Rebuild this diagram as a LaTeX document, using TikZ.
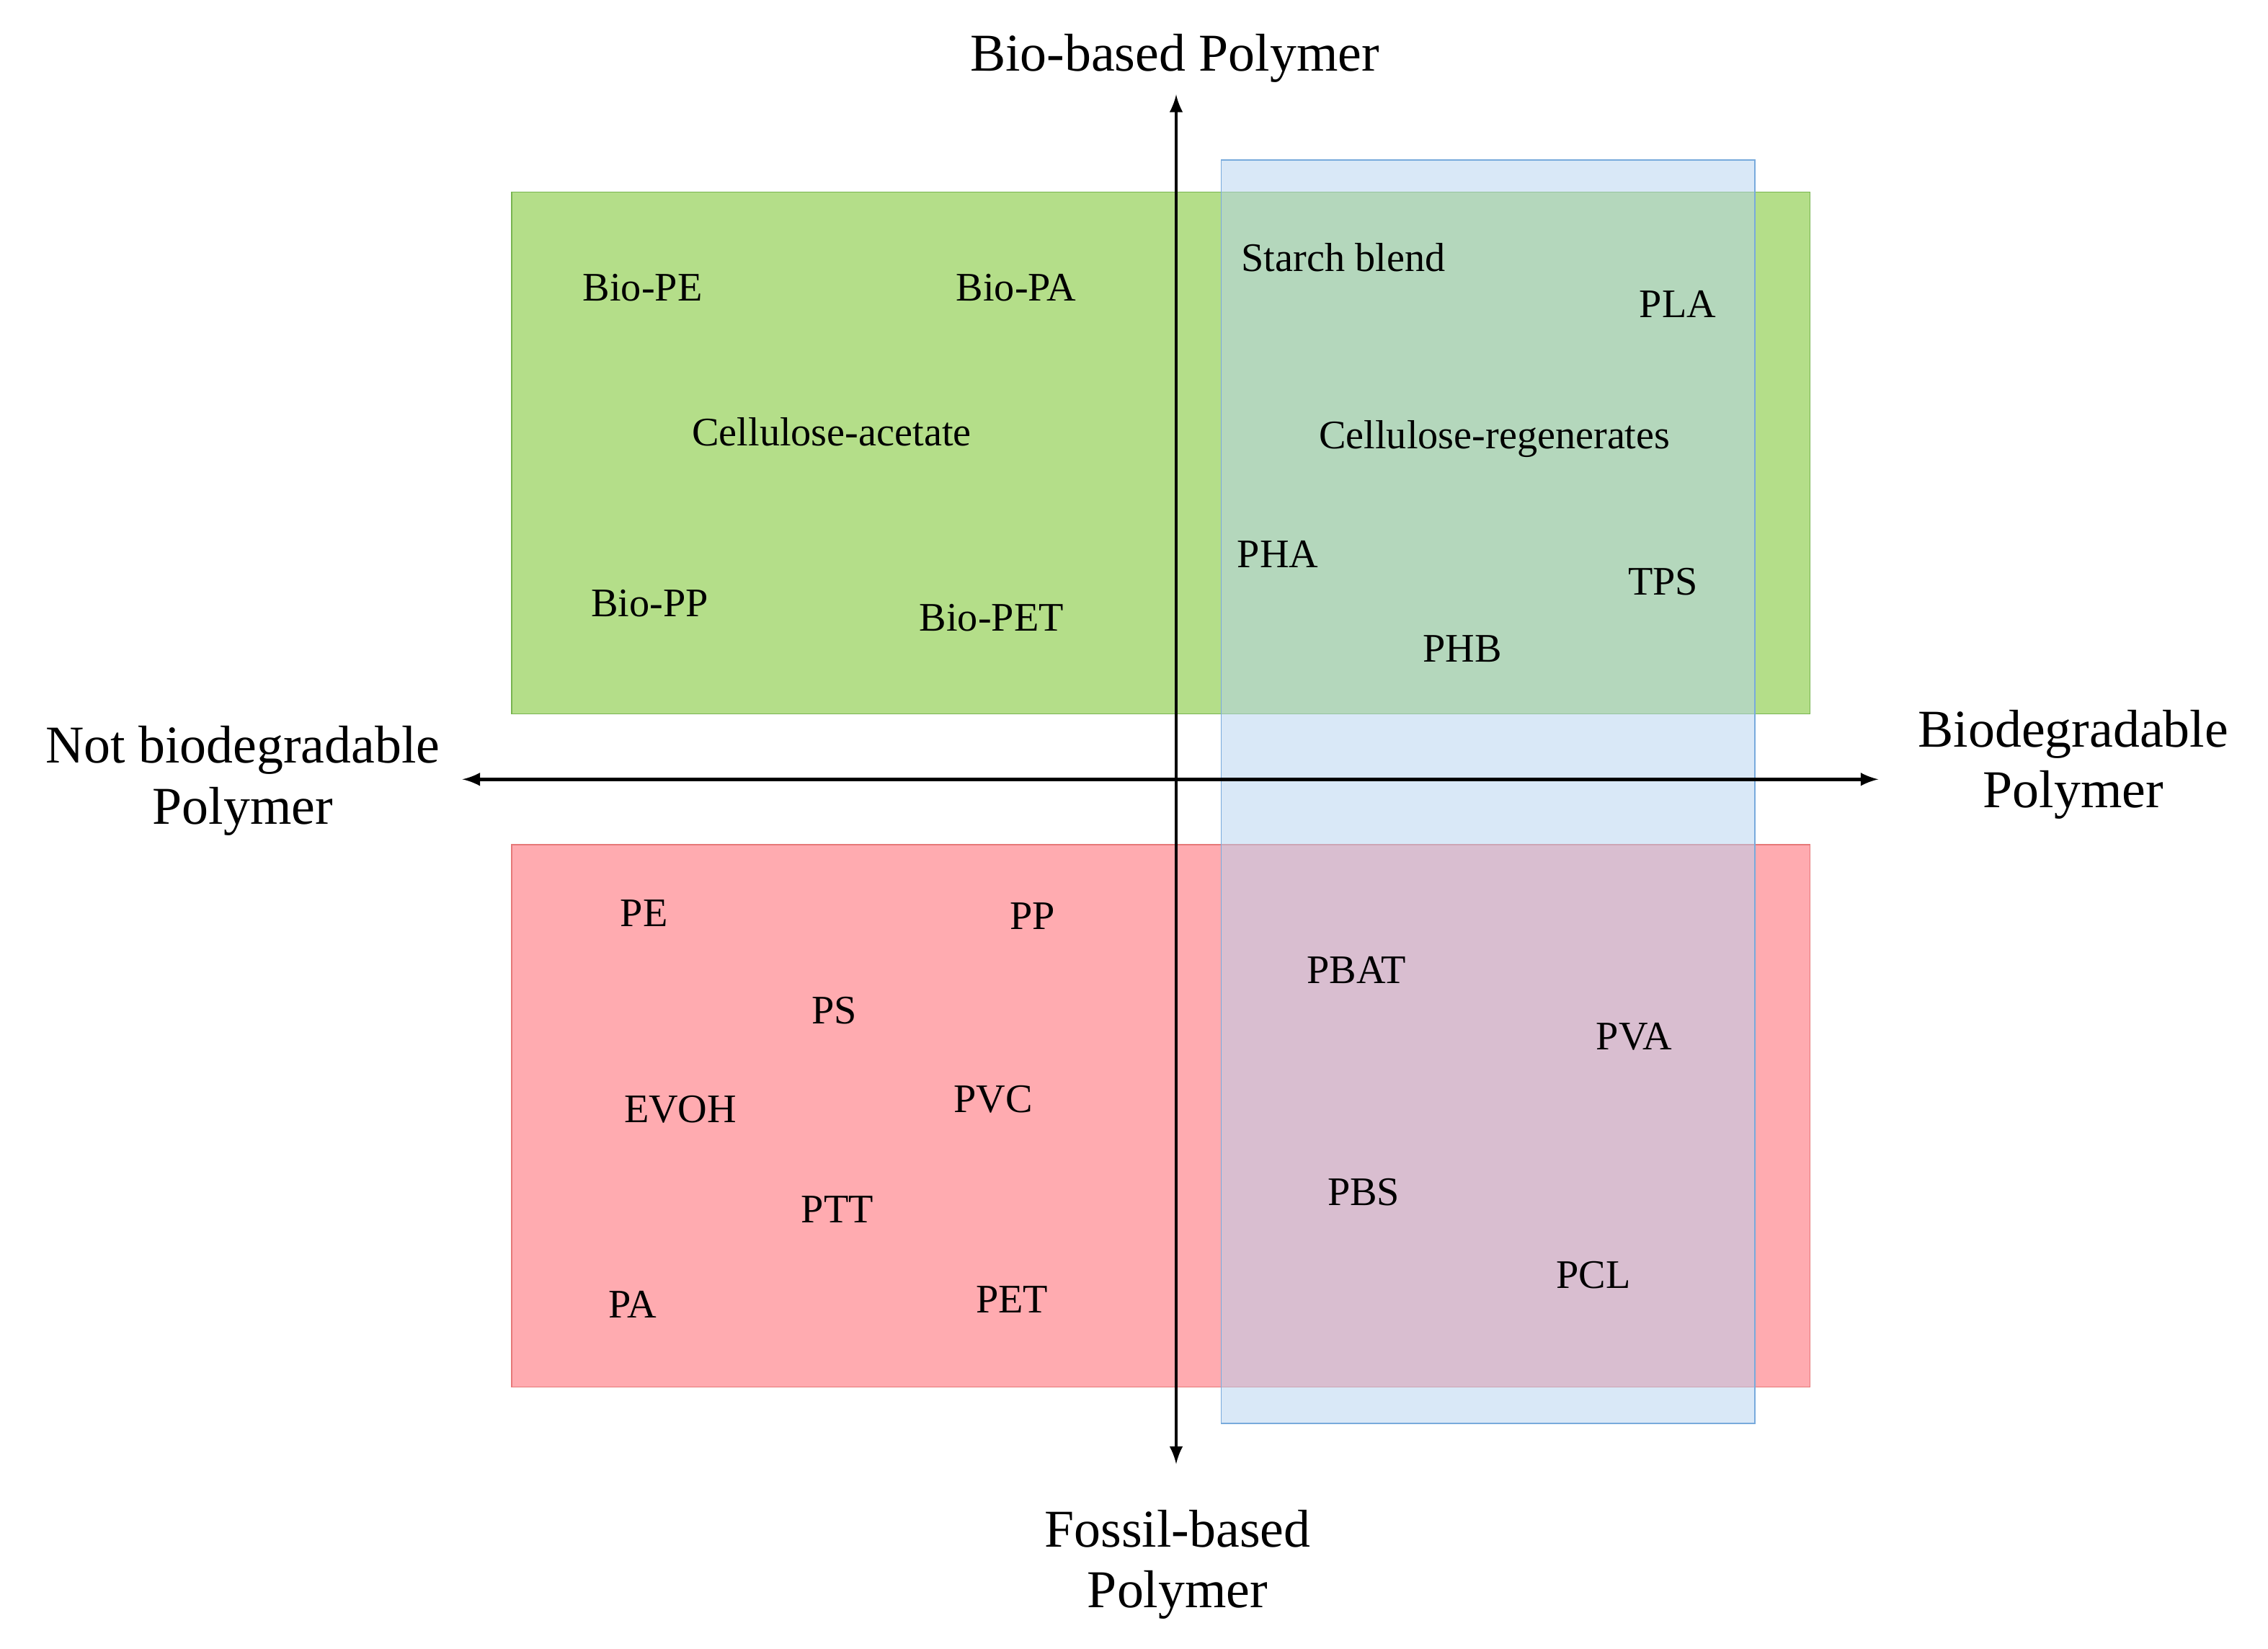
\documentclass[tikz,border=0pt]{standalone}
\usepackage{fontspec}
\setmainfont{Liberation Serif}
\begin{document}
\begin{tikzpicture}[x=0.2017mm,y=-0.2017mm,
  lab/.style={font=\fontsize{16}{18}\selectfont},
  big/.style={font=\fontsize{21}{24}\selectfont,align=center},
  ax/.style={line width=1.4pt,-latex}]
\definecolor{gf}{RGB}{180,222,137}\definecolor{gd}{RGB}{120,180,80}
\definecolor{rf}{RGB}{255,171,176}\definecolor{rd}{RGB}{230,120,120}
\definecolor{bf}{RGB}{180,210,240}\definecolor{bd}{RGB}{120,170,220}
\useasboundingbox (0,0) rectangle (1560,1134);
\draw[fill=gf,draw=gd] (352,132) rectangle (1245,491);
\draw[fill=rf,draw=rd] (352,581) rectangle (1245,954);
\fill[bf,opacity=0.5] (840,110) rectangle (1207,979);
\draw[bd] (840,110) rectangle (1207,979);
\coordinate (t) at (809,65); \coordinate (b) at (809,1007);
\coordinate (l) at (318,536); \coordinate (r) at (1292,536);
\coordinate (c) at (809,536);
\draw[ax] (c) -- (t); \draw[ax] (c) -- (b);
\draw[ax] (c) -- (l); \draw[ax] (c) -- (r);
\node[big] (n1) at (808,40) {Bio-based Polymer};
\node[big] (n2) at (810,1076) {Fossil-based\\Polymer};
\node[big] (n3) at (167,537) {Not biodegradable\\Polymer};
\node[big] (n4) at (1426,526) {Biodegradable\\Polymer};
\foreach \n/\x/\y/\t in {a1/442/198/Bio-PE, a2/699/198/Bio-PA, a3/572/297/Cellulose-acetate,
 a4/447/415/Bio-PP, a5/682/425/Bio-PET, a6/924/177/Starch blend, a7/1154/209/PLA,
 a8/1028/302/Cellulose-regenerates, a9/879/381/PHA, a10/1144/400/TPS, a11/1006/446/PHB,
 b1/443/628/PE, b2/710/630/PP, b3/574/695/PS, b4/468/763/EVOH, b5/683/756/PVC,
 b6/576/832/PTT, b7/435/897/PA, b8/696/894/PET, b9/933/667/PBAT, b10/1124/713/PVA,
 b11/938/820/PBS, b12/1096/877/PCL}
 \node[lab] (\n) at (\x,\y) {\t};
\end{tikzpicture}
\end{document}
